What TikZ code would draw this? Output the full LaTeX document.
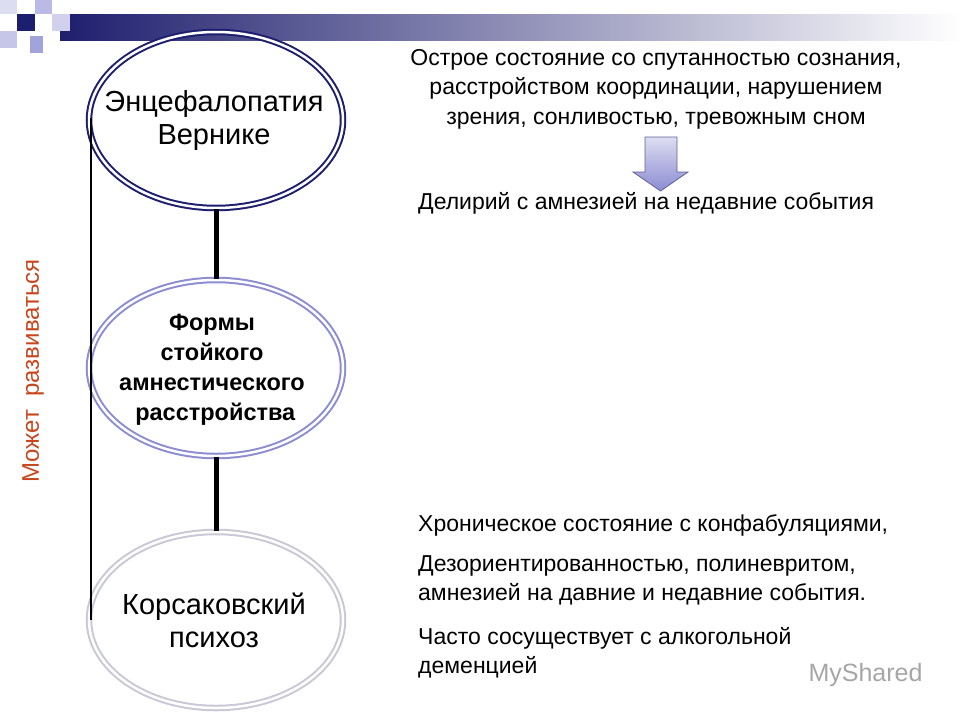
\documentclass[tikz,border=0pt]{standalone}
\usepackage{fontspec}
\setmainfont{Liberation Sans}
\usetikzlibrary{shapes.geometric}
\definecolor{navy}{RGB}{30,30,110}
\definecolor{lav}{RGB}{140,140,210}
\definecolor{lgray}{RGB}{200,200,215}
\definecolor{redt}{RGB}{200,70,30}
\begin{document}
\begin{tikzpicture}[x=1pt,y=-1pt,
  txt/.style={font=\fontsize{23}{29}\selectfont,align=left,anchor=north west,inner sep=0},
  ell/.style={ellipse,minimum width=254,minimum height=176,double distance=2.5pt,line width=2pt},
  thick/.style={line width=5pt}]
\useasboundingbox (0,0) rectangle (960,720);
\fill[white] (0,0) rectangle (960,720);
% header bar and squares
\shade[left color=navy,right color=white] (60,14) rectangle (960,40);
\fill[navy] (17,14) rectangle (35,31);
\fill[lav!60] (35,0) rectangle (52,14);
\fill[lav!40] (52,14) rectangle (70,31);
\fill[lav!50] (0,31) rectangle (17,48);
\fill[lav!80] (30,36) rectangle (43,53);
\fill[lav!30] (0,0) rectangle (17,14);
% ellipses
\node[ell,draw=navy,double=white] (a) at (216,120) {};
\node[ell,draw=lav,double=white] (b) at (216,368) {};
\node[ell,draw=lgray,double=white] (c) at (216,620) {};
\node[font=\fontsize{29}{33}\selectfont,align=center] at (214,120) {Энцефалопатия\\Вернике};
\node[font=\bfseries\fontsize{23.5}{30}\selectfont,align=center] at (212,370) {Формы\\стойкого\\амнестического\\\ расстройства};
\node[font=\fontsize{29}{33}\selectfont,align=center] at (214,620) {Корсаковский\\психоз};
\draw[thick] (a.south) -- (b.north);
\draw[thick] (b.south) -- (c.north);
\coordinate (l1) at (91,118);
\coordinate (l2) at (91,620);
\draw[line width=1.5pt] (l1) -- (l2);
\node[rotate=90,text=redt,font=\fontsize{24}{28}\selectfont] (m) at (33,371) {Может\ \ развиваться};
% right texts
\node[font=\fontsize{23}{29.5}\selectfont,align=center] (t1) at (656,89) {Острое состояние со спутанностью сознания,\\расстройством координации, нарушением\\зрения, сонливостью, тревожным сном};
\shade[draw=navy!70,line width=0.8pt,top color=lav!30,bottom color=lav]
  (645,137) -- (677,137) -- (677,172) -- (688,172) -- (660.5,191) -- (633,172) -- (645,172) -- cycle;
\node[txt] (t2) at (418,192) {Делирий с амнезией на недавние события};
\node[txt] (t3) at (418,514) {Хроническое состояние с конфабуляциями,};
\node[txt] (t4) at (418,555) {Дезориентированностью, полиневритом,\\амнезией на давние и недавние события.};
\node[txt] (t5) at (418,627) {Часто сосуществует с алкогольной\\деменцией};
\node[font=\fontsize{25}{28}\selectfont,text=gray!70,anchor=west] (logo) at (805,675) {MyShared};
\end{tikzpicture}
\end{document}
